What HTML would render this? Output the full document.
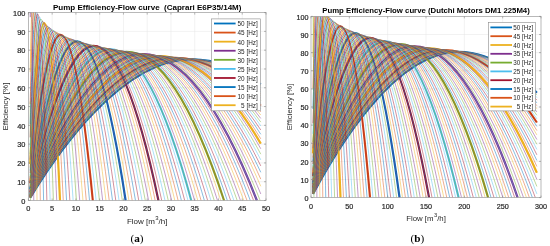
<!DOCTYPE html>
<html><head><meta charset="utf-8"><title>Pump Efficiency-Flow curves</title>
<style>html,body{margin:0;padding:0;background:#fff;width:550px;height:246px;overflow:hidden}svg{display:block}</style>
</head><body>
<svg width="550" height="246" viewBox="0 0 550 246">
<defs><clipPath id="cL"><rect x="28.4" y="12.6" width="237.6" height="187.9"/></clipPath><clipPath id="cR"><rect x="311" y="16.4" width="230" height="181.2"/></clipPath></defs>
<rect width="550" height="246" fill="#fff"/>
<path d="M52.16 12.6V200.5M75.92 12.6V200.5M99.68 12.6V200.5M123.44 12.6V200.5M147.2 12.6V200.5M170.96 12.6V200.5M194.72 12.6V200.5M218.48 12.6V200.5M242.24 12.6V200.5M28.4 181.71H266M28.4 162.92H266M28.4 144.13H266M28.4 125.34H266M28.4 106.55H266M28.4 87.76H266M28.4 68.97H266M28.4 50.18H266M28.4 31.39H266" stroke="#e4e4e4" stroke-width="0.5" fill="none"/>
<g clip-path="url(#cL)" fill="none" stroke-linecap="butt">
<path d="M30.21 197.55C51.4 163.1 72.59 134.74 93.78 112.77C126.47 78.88 159.17 59.26 191.86 59.26C214.83 59.26 237.8 67.62 260.77 84.36" stroke="#0072BD" stroke-width="2.2"/>
<path d="M30.21 197.19C49.21 162.53 68.22 133.98 87.22 111.85C116.63 77.6 146.04 57.78 175.45 57.78C203.89 57.78 232.33 73.79 260.77 105.83" stroke="#D95319" stroke-width="2.2"/>
<path d="M30.21 196.73C47.02 161.86 63.84 133.11 80.66 110.81C106.79 76.17 132.92 56.11 159.04 56.11C192.95 56.11 226.86 85.29 260.77 143.66" stroke="#EDB120" stroke-width="2.2"/>
<path d="M30.21 196.14C44.84 161.04 59.47 132.1 74.1 109.62C96.94 74.51 119.79 54.19 142.64 54.19C180.72 54.19 218.8 102.96 256.88 200.5" stroke="#7E2F8E" stroke-width="2.2"/>
<path d="M30.21 195.33C42.65 160.03 55.09 130.89 67.53 108.23C87.1 72.58 106.67 51.94 126.23 51.94C158.84 51.94 191.45 101.46 224.06 200.5" stroke="#77AC30" stroke-width="2.2"/>
<path d="M30.21 194.19C40.46 158.72 50.72 129.4 60.97 106.55C77.26 70.26 93.54 49.24 109.83 49.24C136.97 49.24 164.11 99.66 191.25 200.5" stroke="#4DBEEE" stroke-width="2.2"/>
<path d="M30.21 192.44C38.27 156.9 46.34 127.47 54.41 104.46C67.41 67.35 80.42 45.87 93.42 45.87C115.09 45.87 136.77 97.41 158.44 200.5" stroke="#A2142F" stroke-width="2.2"/>
<path d="M30.21 189.46C36.09 154.13 41.97 124.77 47.85 101.69C57.57 63.51 67.29 41.41 77.01 41.41C93.22 41.41 109.42 94.44 125.63 200.5" stroke="#0072BD" stroke-width="2.2"/>
<path d="M30.21 183.31C33.9 149.06 37.59 120.42 41.28 97.65C47.72 57.91 54.17 34.91 60.61 34.91C71.34 34.91 82.08 90.11 92.81 200.5" stroke="#D95319" stroke-width="2.2"/>
<path d="M30.21 163.98C31.71 135.22 33.22 110.62 34.72 90.36C37.88 47.81 41.04 23.17 44.2 23.17C49.47 23.17 54.73 82.28 60 200.5" stroke="#EDB120" stroke-width="2.2"/>
<g stroke-width="0.8">
<path d="M30.21 197.55C51.4 163.1 72.59 134.74 93.78 112.77C126.47 78.88 159.17 59.26 191.86 59.26" stroke="#7E2F8E" stroke-opacity="0.85"/>
<path d="M191.86 59.26C214.83 59.26 237.8 67.62 260.77 84.36" stroke="#7E2F8E" stroke-opacity="0.6"/>
<path d="M30.21 197.52C51.18 163.05 72.15 134.67 93.13 112.68C125.49 78.76 157.85 59.12 190.22 59.12" stroke="#77AC30" stroke-opacity="0.85"/>
<path d="M190.22 59.12C213.74 59.12 237.25 68.08 260.77 86" stroke="#77AC30" stroke-opacity="0.6"/>
<path d="M30.21 197.48C50.96 162.99 71.72 134.59 92.47 112.59C124.51 78.63 156.54 58.97 188.58 58.97" stroke="#4DBEEE" stroke-opacity="0.85"/>
<path d="M188.58 58.97C212.64 58.97 236.71 68.56 260.77 87.73" stroke="#4DBEEE" stroke-opacity="0.6"/>
<path d="M30.21 197.45C50.74 162.94 71.28 134.52 91.81 112.5C123.52 78.51 155.23 58.83 186.94 58.83" stroke="#A2142F" stroke-opacity="0.85"/>
<path d="M186.94 58.83C211.55 58.83 236.16 69.07 260.77 89.56" stroke="#A2142F" stroke-opacity="0.6"/>
<path d="M30.21 197.41C50.52 162.88 70.84 134.45 91.16 112.41C122.54 78.39 153.92 58.68 185.29 58.68" stroke="#0072BD" stroke-opacity="0.85"/>
<path d="M185.29 58.68C210.45 58.68 235.61 69.63 260.77 91.51" stroke="#0072BD" stroke-opacity="0.6"/>
<path d="M30.21 197.38C50.3 162.83 70.4 134.37 90.5 112.32C121.55 78.26 152.6 58.54 183.65 58.54" stroke="#D95319" stroke-opacity="0.85"/>
<path d="M183.65 58.54C209.36 58.54 235.07 70.21 260.77 93.57" stroke="#D95319" stroke-opacity="0.6"/>
<path d="M30.21 197.34C50.09 162.77 69.97 134.3 89.85 112.23C120.57 78.13 151.29 58.39 182.01 58.39" stroke="#EDB120" stroke-opacity="0.85"/>
<path d="M182.01 58.39C208.27 58.39 234.52 70.84 260.77 95.75" stroke="#EDB120" stroke-opacity="0.6"/>
<path d="M30.21 197.31C49.87 162.71 69.53 134.22 89.19 112.14C119.58 78 149.98 58.24 180.37 58.24" stroke="#7E2F8E" stroke-opacity="0.85"/>
<path d="M180.37 58.24C207.17 58.24 233.97 71.51 260.77 98.06" stroke="#7E2F8E" stroke-opacity="0.6"/>
<path d="M30.21 197.27C49.65 162.65 69.09 134.14 88.53 112.04C118.6 77.87 148.67 58.09 178.73 58.09" stroke="#77AC30" stroke-opacity="0.85"/>
<path d="M178.73 58.09C206.08 58.09 233.43 72.23 260.77 100.5" stroke="#77AC30" stroke-opacity="0.6"/>
<path d="M30.21 197.23C49.43 162.59 68.65 134.06 87.88 111.95C117.61 77.74 147.35 57.93 177.09 57.93" stroke="#4DBEEE" stroke-opacity="0.85"/>
<path d="M177.09 57.93C204.99 57.93 232.88 72.99 260.77 103.09" stroke="#4DBEEE" stroke-opacity="0.6"/>
<path d="M30.21 197.19C49.21 162.53 68.22 133.98 87.22 111.85C116.63 77.6 146.04 57.78 175.45 57.78" stroke="#A2142F" stroke-opacity="0.85"/>
<path d="M175.45 57.78C203.89 57.78 232.33 73.79 260.77 105.83" stroke="#A2142F" stroke-opacity="0.6"/>
<path d="M30.21 197.15C48.99 162.47 67.78 133.9 86.56 111.75C115.65 77.47 144.73 57.62 173.81 57.62" stroke="#0072BD" stroke-opacity="0.85"/>
<path d="M173.81 57.62C202.8 57.62 231.79 74.65 260.77 108.72" stroke="#0072BD" stroke-opacity="0.6"/>
<path d="M30.21 197.11C48.77 162.4 67.34 133.82 85.91 111.65C114.66 77.33 143.42 57.46 172.17 57.46" stroke="#D95319" stroke-opacity="0.85"/>
<path d="M172.17 57.46C201.7 57.46 231.24 75.57 260.77 111.79" stroke="#D95319" stroke-opacity="0.6"/>
<path d="M30.21 197.06C48.55 162.34 66.9 133.73 85.25 111.55C113.68 77.19 142.1 57.3 170.53 57.3" stroke="#EDB120" stroke-opacity="0.85"/>
<path d="M170.53 57.3C200.61 57.3 230.69 76.54 260.77 115.03" stroke="#EDB120" stroke-opacity="0.6"/>
<path d="M30.21 197.02C48.34 162.27 66.47 133.65 84.6 111.45C112.69 77.05 140.79 57.14 168.89 57.14" stroke="#7E2F8E" stroke-opacity="0.85"/>
<path d="M168.89 57.14C199.52 57.14 230.14 77.58 260.77 118.46" stroke="#7E2F8E" stroke-opacity="0.6"/>
<path d="M30.21 196.97C48.12 162.21 66.03 133.56 83.94 111.35C111.71 76.91 139.48 56.97 167.25 56.97" stroke="#77AC30" stroke-opacity="0.85"/>
<path d="M167.25 56.97C198.42 56.97 229.6 78.68 260.77 122.09" stroke="#77AC30" stroke-opacity="0.6"/>
<path d="M30.21 196.93C47.9 162.14 65.59 133.47 83.28 111.24C110.72 76.76 138.17 56.8 165.61 56.8" stroke="#4DBEEE" stroke-opacity="0.85"/>
<path d="M165.61 56.8C197.33 56.8 229.05 79.84 260.77 125.93" stroke="#4DBEEE" stroke-opacity="0.6"/>
<path d="M30.21 196.88C47.68 162.07 65.15 133.39 82.63 111.14C109.74 76.62 136.85 56.63 163.97 56.63" stroke="#A2142F" stroke-opacity="0.85"/>
<path d="M163.97 56.63C196.24 56.63 228.5 81.09 260.77 129.99" stroke="#A2142F" stroke-opacity="0.6"/>
<path d="M30.21 196.83C47.46 162 64.72 133.3 81.97 111.03C108.76 76.47 135.54 56.46 162.33 56.46" stroke="#0072BD" stroke-opacity="0.85"/>
<path d="M162.33 56.46C195.14 56.46 227.96 82.4 260.77 134.29" stroke="#0072BD" stroke-opacity="0.6"/>
<path d="M30.21 196.78C47.24 161.93 64.28 133.21 81.31 110.92C107.77 76.32 134.23 56.28 160.68 56.28" stroke="#D95319" stroke-opacity="0.85"/>
<path d="M160.68 56.28C194.05 56.28 227.41 83.8 260.77 138.84" stroke="#D95319" stroke-opacity="0.6"/>
<path d="M30.21 196.73C47.02 161.86 63.84 133.11 80.66 110.81C106.79 76.17 132.92 56.11 159.04 56.11" stroke="#EDB120" stroke-opacity="0.85"/>
<path d="M159.04 56.11C192.95 56.11 226.86 85.29 260.77 143.66" stroke="#EDB120" stroke-opacity="0.6"/>
<path d="M30.21 196.68C46.8 161.78 63.4 133.02 80 110.7C105.8 76.01 131.6 55.93 157.4 55.93" stroke="#7E2F8E" stroke-opacity="0.85"/>
<path d="M157.4 55.93C191.86 55.93 226.32 86.87 260.77 148.75" stroke="#7E2F8E" stroke-opacity="0.6"/>
<path d="M30.21 196.63C46.59 161.71 62.97 132.92 79.35 110.59C104.82 75.85 130.29 55.75 155.76 55.75" stroke="#77AC30" stroke-opacity="0.85"/>
<path d="M155.76 55.75C190.77 55.75 225.77 88.55 260.77 154.15" stroke="#77AC30" stroke-opacity="0.6"/>
<path d="M30.21 196.57C46.37 161.63 62.53 132.83 78.69 110.47C103.83 75.7 128.98 55.56 154.12 55.56" stroke="#4DBEEE" stroke-opacity="0.85"/>
<path d="M154.12 55.56C189.67 55.56 225.22 90.33 260.77 159.86" stroke="#4DBEEE" stroke-opacity="0.6"/>
<path d="M30.21 196.51C46.15 161.55 62.09 132.73 78.03 110.36C102.85 75.53 127.67 55.37 152.48 55.37" stroke="#A2142F" stroke-opacity="0.85"/>
<path d="M152.48 55.37C188.58 55.37 224.68 92.22 260.77 165.91" stroke="#A2142F" stroke-opacity="0.6"/>
<path d="M30.21 196.46C45.93 161.47 61.65 132.63 77.38 110.24C101.86 75.37 126.35 55.18 150.84 55.18" stroke="#0072BD" stroke-opacity="0.85"/>
<path d="M150.84 55.18C187.49 55.18 224.13 94.23 260.77 172.32" stroke="#0072BD" stroke-opacity="0.6"/>
<path d="M30.21 196.4C45.71 161.39 61.22 132.53 76.72 110.12C100.88 75.2 125.04 54.99 149.2 54.99" stroke="#D95319" stroke-opacity="0.85"/>
<path d="M149.2 54.99C186.39 54.99 223.58 96.37 260.77 179.12" stroke="#D95319" stroke-opacity="0.6"/>
<path d="M30.21 196.33C45.49 161.3 60.78 132.42 76.06 110C99.9 75.04 123.73 54.79 147.56 54.79" stroke="#EDB120" stroke-opacity="0.85"/>
<path d="M147.56 54.79C185.3 54.79 223.04 98.64 260.77 186.32" stroke="#EDB120" stroke-opacity="0.6"/>
<path d="M30.21 196.27C45.27 161.22 60.34 132.32 75.41 109.87C98.91 74.86 122.42 54.6 145.92 54.6" stroke="#7E2F8E" stroke-opacity="0.85"/>
<path d="M145.92 54.6C184.2 54.6 222.49 101.05 260.77 193.96" stroke="#7E2F8E" stroke-opacity="0.6"/>
<path d="M30.21 196.2C45.05 161.13 59.9 132.21 74.75 109.75C97.93 74.69 121.1 54.39 144.28 54.39" stroke="#77AC30" stroke-opacity="0.85"/>
<path d="M144.28 54.39C182.9 54.39 221.53 103.1 260.16 200.5" stroke="#77AC30" stroke-opacity="0.6"/>
<path d="M30.21 196.14C44.84 161.04 59.47 132.1 74.1 109.62C96.94 74.51 119.79 54.19 142.64 54.19" stroke="#4DBEEE" stroke-opacity="0.85"/>
<path d="M142.64 54.19C180.72 54.19 218.8 102.96 256.88 200.5" stroke="#4DBEEE" stroke-opacity="0.6"/>
<path d="M30.21 196.07C44.62 160.95 59.03 131.99 73.44 109.49C95.96 74.34 118.48 53.98 141 53.98" stroke="#A2142F" stroke-opacity="0.85"/>
<path d="M141 53.98C178.53 53.98 216.06 102.82 253.59 200.5" stroke="#A2142F" stroke-opacity="0.6"/>
<path d="M30.21 196C44.4 160.86 58.59 131.88 72.78 109.36C94.97 74.15 117.17 53.77 139.36 53.77" stroke="#0072BD" stroke-opacity="0.85"/>
<path d="M139.36 53.77C176.34 53.77 213.33 102.68 250.31 200.5" stroke="#0072BD" stroke-opacity="0.6"/>
<path d="M30.21 195.92C44.18 160.76 58.15 131.76 72.13 109.23C93.99 73.97 115.85 53.55 137.72 53.55" stroke="#D95319" stroke-opacity="0.85"/>
<path d="M137.72 53.55C174.15 53.55 210.59 102.54 247.03 200.5" stroke="#D95319" stroke-opacity="0.6"/>
<path d="M30.21 195.85C43.96 160.67 57.72 131.65 71.47 109.09C93.01 73.78 114.54 53.34 136.08 53.34" stroke="#EDB120" stroke-opacity="0.85"/>
<path d="M136.08 53.34C171.97 53.34 207.86 102.39 243.75 200.5" stroke="#EDB120" stroke-opacity="0.6"/>
<path d="M30.21 195.77C43.74 160.57 57.28 131.53 70.81 108.95C92.02 73.59 113.23 53.11 134.43 53.11" stroke="#7E2F8E" stroke-opacity="0.85"/>
<path d="M134.43 53.11C169.78 53.11 205.12 102.24 240.47 200.5" stroke="#7E2F8E" stroke-opacity="0.6"/>
<path d="M30.21 195.69C43.52 160.47 56.84 131.41 70.16 108.81C91.04 73.39 111.92 52.89 132.79 52.89" stroke="#77AC30" stroke-opacity="0.85"/>
<path d="M132.79 52.89C167.59 52.89 202.39 102.09 237.19 200.5" stroke="#77AC30" stroke-opacity="0.6"/>
<path d="M30.21 195.6C43.3 160.36 56.4 131.28 69.5 108.67C90.05 73.2 110.6 52.66 131.15 52.66" stroke="#4DBEEE" stroke-opacity="0.85"/>
<path d="M131.15 52.66C165.4 52.66 199.66 101.94 233.91 200.5" stroke="#4DBEEE" stroke-opacity="0.6"/>
<path d="M30.21 195.52C43.09 160.25 55.97 131.16 68.85 108.53C89.07 72.99 109.29 52.42 129.51 52.42" stroke="#A2142F" stroke-opacity="0.85"/>
<path d="M129.51 52.42C163.22 52.42 196.92 101.78 230.63 200.5" stroke="#A2142F" stroke-opacity="0.6"/>
<path d="M30.21 195.43C42.87 160.15 55.53 131.03 68.19 108.38C88.08 72.79 107.98 52.19 127.87 52.19" stroke="#0072BD" stroke-opacity="0.85"/>
<path d="M127.87 52.19C161.03 52.19 194.19 101.62 227.34 200.5" stroke="#0072BD" stroke-opacity="0.6"/>
<path d="M30.21 195.33C42.65 160.03 55.09 130.89 67.53 108.23C87.1 72.58 106.67 51.94 126.23 51.94" stroke="#D95319" stroke-opacity="0.85"/>
<path d="M126.23 51.94C158.84 51.94 191.45 101.46 224.06 200.5" stroke="#D95319" stroke-opacity="0.6"/>
<path d="M30.21 195.24C42.43 159.92 54.65 130.76 66.88 108.07C86.11 72.37 105.35 51.7 124.59 51.7" stroke="#EDB120" stroke-opacity="0.85"/>
<path d="M124.59 51.7C156.65 51.7 188.72 101.3 220.78 200.5" stroke="#EDB120" stroke-opacity="0.6"/>
<path d="M30.21 195.14C42.21 159.8 54.22 130.62 66.22 107.92C85.13 72.15 104.04 51.45 122.95 51.45" stroke="#7E2F8E" stroke-opacity="0.85"/>
<path d="M122.95 51.45C154.47 51.45 185.98 101.13 217.5 200.5" stroke="#7E2F8E" stroke-opacity="0.6"/>
<path d="M30.21 195.03C41.99 159.68 53.78 130.48 65.56 107.76C84.15 71.93 102.73 51.19 121.31 51.19" stroke="#77AC30" stroke-opacity="0.85"/>
<path d="M121.31 51.19C152.28 51.19 183.25 100.96 214.22 200.5" stroke="#77AC30" stroke-opacity="0.6"/>
<path d="M30.21 194.93C41.77 159.55 53.34 130.34 64.91 107.6C83.16 71.71 101.42 50.93 119.67 50.93" stroke="#4DBEEE" stroke-opacity="0.85"/>
<path d="M119.67 50.93C150.09 50.93 180.52 100.79 210.94 200.5" stroke="#4DBEEE" stroke-opacity="0.6"/>
<path d="M30.21 194.82C41.55 159.42 52.9 130.19 64.25 107.43C82.18 71.48 100.1 50.66 118.03 50.66" stroke="#A2142F" stroke-opacity="0.85"/>
<path d="M118.03 50.66C147.9 50.66 177.78 100.61 207.66 200.5" stroke="#A2142F" stroke-opacity="0.6"/>
<path d="M30.21 194.7C41.34 159.29 52.47 130.04 63.6 107.26C81.19 71.24 98.79 50.39 116.39 50.39" stroke="#0072BD" stroke-opacity="0.85"/>
<path d="M116.39 50.39C145.72 50.39 175.05 100.43 204.38 200.5" stroke="#0072BD" stroke-opacity="0.6"/>
<path d="M30.21 194.58C41.12 159.15 52.03 129.89 62.94 107.09C80.21 71 97.48 50.11 114.75 50.11" stroke="#D95319" stroke-opacity="0.85"/>
<path d="M114.75 50.11C143.53 50.11 172.31 100.24 201.09 200.5" stroke="#D95319" stroke-opacity="0.6"/>
<path d="M30.21 194.46C40.9 159.01 51.59 129.73 62.28 106.91C79.22 70.76 96.17 49.83 113.11 49.83" stroke="#EDB120" stroke-opacity="0.85"/>
<path d="M113.11 49.83C141.34 49.83 169.58 100.05 197.81 200.5" stroke="#EDB120" stroke-opacity="0.6"/>
<path d="M30.21 194.33C40.68 158.87 51.15 129.57 61.63 106.73C78.24 70.51 94.85 49.54 111.47 49.54" stroke="#7E2F8E" stroke-opacity="0.85"/>
<path d="M111.47 49.54C139.15 49.54 166.84 99.86 194.53 200.5" stroke="#7E2F8E" stroke-opacity="0.6"/>
<path d="M30.21 194.19C40.46 158.72 50.72 129.4 60.97 106.55C77.26 70.26 93.54 49.24 109.83 49.24" stroke="#77AC30" stroke-opacity="0.85"/>
<path d="M109.83 49.24C136.97 49.24 164.11 99.66 191.25 200.5" stroke="#77AC30" stroke-opacity="0.6"/>
<path d="M30.21 194.05C40.24 158.57 50.28 129.23 60.31 106.36C76.27 70 92.23 48.94 108.18 48.94" stroke="#4DBEEE" stroke-opacity="0.85"/>
<path d="M108.18 48.94C134.78 48.94 161.37 99.46 187.97 200.5" stroke="#4DBEEE" stroke-opacity="0.6"/>
<path d="M30.21 193.9C40.02 158.41 49.84 129.06 59.66 106.17C75.29 69.73 90.92 48.63 106.54 48.63" stroke="#A2142F" stroke-opacity="0.85"/>
<path d="M106.54 48.63C132.59 48.63 158.64 99.26 184.69 200.5" stroke="#A2142F" stroke-opacity="0.6"/>
<path d="M30.21 193.75C39.8 158.24 49.4 128.88 59 105.97C74.3 69.46 89.6 48.32 104.9 48.32" stroke="#0072BD" stroke-opacity="0.85"/>
<path d="M104.9 48.32C130.4 48.32 155.91 99.04 181.41 200.5" stroke="#0072BD" stroke-opacity="0.6"/>
<path d="M30.21 193.59C39.59 158.07 48.97 128.7 58.35 105.77C73.32 69.18 88.29 47.99 103.26 47.99" stroke="#D95319" stroke-opacity="0.85"/>
<path d="M103.26 47.99C128.22 47.99 153.17 98.83 178.13 200.5" stroke="#D95319" stroke-opacity="0.6"/>
<path d="M30.21 193.42C39.37 157.89 48.53 128.51 57.69 105.57C72.33 68.89 86.98 47.66 101.62 47.66" stroke="#EDB120" stroke-opacity="0.85"/>
<path d="M101.62 47.66C126.03 47.66 150.44 98.61 174.84 200.5" stroke="#EDB120" stroke-opacity="0.6"/>
<path d="M30.21 193.24C39.15 157.71 48.09 128.31 57.03 105.36C71.35 68.6 85.67 47.32 99.98 47.32" stroke="#7E2F8E" stroke-opacity="0.85"/>
<path d="M99.98 47.32C123.84 47.32 147.7 98.38 171.56 200.5" stroke="#7E2F8E" stroke-opacity="0.6"/>
<path d="M30.21 193.06C38.93 157.52 47.65 128.11 56.38 105.14C70.36 68.3 84.35 46.97 98.34 46.97" stroke="#77AC30" stroke-opacity="0.85"/>
<path d="M98.34 46.97C121.65 46.97 144.97 98.15 168.28 200.5" stroke="#77AC30" stroke-opacity="0.6"/>
<path d="M30.21 192.86C38.71 157.32 47.22 127.91 55.72 104.92C69.38 67.99 83.04 46.62 96.7 46.62" stroke="#4DBEEE" stroke-opacity="0.85"/>
<path d="M96.7 46.62C119.47 46.62 142.23 97.91 165 200.5" stroke="#4DBEEE" stroke-opacity="0.6"/>
<path d="M30.21 192.66C38.49 157.12 46.78 127.69 55.06 104.69C68.4 67.68 81.73 46.25 95.06 46.25" stroke="#A2142F" stroke-opacity="0.85"/>
<path d="M95.06 46.25C117.28 46.25 139.5 97.67 161.72 200.5" stroke="#A2142F" stroke-opacity="0.6"/>
<path d="M30.21 192.44C38.27 156.9 46.34 127.47 54.41 104.46C67.41 67.35 80.42 45.87 93.42 45.87" stroke="#0072BD" stroke-opacity="0.85"/>
<path d="M93.42 45.87C115.09 45.87 136.77 97.41 158.44 200.5" stroke="#0072BD" stroke-opacity="0.6"/>
<path d="M30.21 192.22C38.05 156.68 45.9 127.25 53.75 104.22C66.43 67.02 79.1 45.48 91.78 45.48" stroke="#D95319" stroke-opacity="0.85"/>
<path d="M91.78 45.48C112.9 45.48 134.03 97.16 155.16 200.5" stroke="#D95319" stroke-opacity="0.6"/>
<path d="M30.21 191.98C37.84 156.45 45.47 127.01 53.1 103.97C65.44 66.68 77.79 45.09 90.14 45.09" stroke="#EDB120" stroke-opacity="0.85"/>
<path d="M90.14 45.09C110.72 45.09 131.3 96.89 151.88 200.5" stroke="#EDB120" stroke-opacity="0.6"/>
<path d="M30.21 191.72C37.62 156.2 45.03 126.77 52.44 103.71C64.46 66.32 76.48 44.68 88.5 44.68" stroke="#7E2F8E" stroke-opacity="0.85"/>
<path d="M88.5 44.68C108.53 44.68 128.56 96.62 148.59 200.5" stroke="#7E2F8E" stroke-opacity="0.6"/>
<path d="M30.21 191.46C37.4 155.95 44.59 126.51 51.78 103.45C63.47 65.96 75.17 44.25 86.86 44.25" stroke="#77AC30" stroke-opacity="0.85"/>
<path d="M86.86 44.25C106.34 44.25 125.83 96.34 145.31 200.5" stroke="#77AC30" stroke-opacity="0.6"/>
<path d="M30.21 191.17C37.18 155.68 44.15 126.25 51.13 103.18C62.49 65.58 73.85 43.82 85.22 43.82" stroke="#4DBEEE" stroke-opacity="0.85"/>
<path d="M85.22 43.82C104.15 43.82 123.09 96.05 142.03 200.5" stroke="#4DBEEE" stroke-opacity="0.6"/>
<path d="M30.21 190.87C36.96 155.4 43.72 125.98 50.47 102.9C61.51 65.2 72.54 43.37 83.58 43.37" stroke="#A2142F" stroke-opacity="0.85"/>
<path d="M83.58 43.37C101.97 43.37 120.36 95.75 138.75 200.5" stroke="#A2142F" stroke-opacity="0.6"/>
<path d="M30.21 190.55C36.74 155.11 43.28 125.7 49.81 102.61C60.52 64.8 71.23 42.91 81.93 42.91" stroke="#0072BD" stroke-opacity="0.85"/>
<path d="M81.93 42.91C99.78 42.91 117.62 95.44 135.47 200.5" stroke="#0072BD" stroke-opacity="0.6"/>
<path d="M30.21 190.21C36.52 154.8 42.84 125.4 49.16 102.31C59.54 64.38 69.92 42.43 80.29 42.43" stroke="#D95319" stroke-opacity="0.85"/>
<path d="M80.29 42.43C97.59 42.43 114.89 95.12 132.19 200.5" stroke="#D95319" stroke-opacity="0.6"/>
<path d="M30.21 189.85C36.3 154.47 42.4 125.09 48.5 102.01C58.55 63.96 68.6 41.93 78.65 41.93" stroke="#EDB120" stroke-opacity="0.85"/>
<path d="M78.65 41.93C95.4 41.93 112.16 94.79 128.91 200.5" stroke="#EDB120" stroke-opacity="0.6"/>
<path d="M30.21 189.46C36.09 154.13 41.97 124.77 47.85 101.69C57.57 63.51 67.29 41.41 77.01 41.41" stroke="#7E2F8E" stroke-opacity="0.85"/>
<path d="M77.01 41.41C93.22 41.41 109.42 94.44 125.63 200.5" stroke="#7E2F8E" stroke-opacity="0.6"/>
<path d="M30.21 189.04C35.87 153.76 41.53 124.43 47.19 101.36C56.58 63.05 65.98 40.88 75.37 40.88" stroke="#77AC30" stroke-opacity="0.85"/>
<path d="M75.37 40.88C91.03 40.88 106.69 94.09 122.34 200.5" stroke="#77AC30" stroke-opacity="0.6"/>
<path d="M30.21 188.59C35.65 153.37 41.09 124.08 46.53 101.01C55.6 62.58 64.67 40.33 73.73 40.33" stroke="#4DBEEE" stroke-opacity="0.85"/>
<path d="M73.73 40.33C88.84 40.33 103.95 93.72 119.06 200.5" stroke="#4DBEEE" stroke-opacity="0.6"/>
<path d="M30.21 188.11C35.43 152.96 40.65 123.71 45.88 100.65C54.61 62.08 63.35 39.75 72.09 39.75" stroke="#A2142F" stroke-opacity="0.85"/>
<path d="M72.09 39.75C86.65 39.75 101.22 93.33 115.78 200.5" stroke="#A2142F" stroke-opacity="0.6"/>
<path d="M30.21 187.59C35.21 152.52 40.22 123.32 45.22 100.28C53.63 61.56 62.04 39.15 70.45 39.15" stroke="#0072BD" stroke-opacity="0.85"/>
<path d="M70.45 39.15C84.47 39.15 98.48 92.93 112.5 200.5" stroke="#0072BD" stroke-opacity="0.6"/>
<path d="M30.21 187.02C34.99 152.04 39.78 122.91 44.56 99.89C52.65 61.02 60.73 38.52 68.81 38.52" stroke="#D95319" stroke-opacity="0.85"/>
<path d="M68.81 38.52C82.28 38.52 95.75 92.51 109.22 200.5" stroke="#D95319" stroke-opacity="0.6"/>
<path d="M30.21 186.41C34.77 151.54 39.34 122.47 43.91 99.48C51.66 60.46 59.42 37.87 67.17 37.87" stroke="#EDB120" stroke-opacity="0.85"/>
<path d="M67.17 37.87C80.09 37.87 93.02 92.08 105.94 200.5" stroke="#EDB120" stroke-opacity="0.6"/>
<path d="M30.21 185.74C34.55 150.99 38.9 122.01 43.25 99.06C50.68 59.87 58.1 37.18 65.53 37.18" stroke="#7E2F8E" stroke-opacity="0.85"/>
<path d="M65.53 37.18C77.9 37.18 90.28 91.62 102.66 200.5" stroke="#7E2F8E" stroke-opacity="0.6"/>
<path d="M30.21 185C34.34 150.4 38.47 121.51 42.6 98.61C49.69 59.25 56.79 36.46 63.89 36.46" stroke="#77AC30" stroke-opacity="0.85"/>
<path d="M63.89 36.46C75.72 36.46 87.55 91.14 99.38 200.5" stroke="#77AC30" stroke-opacity="0.6"/>
<path d="M30.21 184.2C34.12 149.76 38.03 120.99 41.94 98.14C48.71 58.6 55.48 35.71 62.25 35.71" stroke="#4DBEEE" stroke-opacity="0.85"/>
<path d="M62.25 35.71C73.53 35.71 84.81 90.64 96.09 200.5" stroke="#4DBEEE" stroke-opacity="0.6"/>
<path d="M30.21 183.31C33.9 149.06 37.59 120.42 41.28 97.65C47.72 57.91 54.17 34.91 60.61 34.91" stroke="#A2142F" stroke-opacity="0.85"/>
<path d="M60.61 34.91C71.34 34.91 82.08 90.11 92.81 200.5" stroke="#A2142F" stroke-opacity="0.6"/>
<path d="M30.21 182.32C33.68 148.3 37.15 119.82 40.63 97.13C46.74 57.19 52.85 34.07 58.97 34.07" stroke="#0072BD" stroke-opacity="0.85"/>
<path d="M58.97 34.07C69.15 34.07 79.34 89.55 89.53 200.5" stroke="#0072BD" stroke-opacity="0.6"/>
<path d="M30.21 181.21C33.46 147.46 36.72 119.16 39.97 96.57C45.76 56.42 51.54 33.18 57.33 33.18" stroke="#D95319" stroke-opacity="0.85"/>
<path d="M57.33 33.18C66.97 33.18 76.61 88.95 86.25 200.5" stroke="#D95319" stroke-opacity="0.6"/>
<path d="M30.21 179.97C33.24 146.52 36.28 118.45 39.31 95.98C44.77 55.61 50.23 32.23 55.68 32.23" stroke="#EDB120" stroke-opacity="0.85"/>
<path d="M55.68 32.23C64.78 32.23 73.87 88.32 82.97 200.5" stroke="#EDB120" stroke-opacity="0.6"/>
<path d="M30.21 178.57C33.02 145.48 35.84 117.67 38.66 95.36C43.79 54.74 48.92 31.22 54.04 31.22" stroke="#7E2F8E" stroke-opacity="0.85"/>
<path d="M54.04 31.22C62.59 31.22 71.14 87.65 79.69 200.5" stroke="#7E2F8E" stroke-opacity="0.6"/>
<path d="M30.21 176.98C32.8 144.32 35.4 116.81 38 94.68C42.8 53.8 47.6 30.14 52.4 30.14" stroke="#77AC30" stroke-opacity="0.85"/>
<path d="M52.4 30.14C60.4 30.14 68.41 86.93 76.41 200.5" stroke="#77AC30" stroke-opacity="0.6"/>
<path d="M30.21 175.14C32.59 142.99 34.97 115.86 37.35 93.96C41.82 52.8 46.29 28.97 50.76 28.97" stroke="#4DBEEE" stroke-opacity="0.85"/>
<path d="M50.76 28.97C58.22 28.97 65.67 86.15 73.13 200.5" stroke="#4DBEEE" stroke-opacity="0.6"/>
<path d="M30.21 173.02C32.37 141.48 34.53 114.79 36.69 93.18C40.83 51.72 44.98 27.71 49.12 27.71" stroke="#A2142F" stroke-opacity="0.85"/>
<path d="M49.12 27.71C56.03 27.71 62.94 85.31 69.84 200.5" stroke="#A2142F" stroke-opacity="0.6"/>
<path d="M30.21 170.52C32.15 139.72 34.09 113.59 36.03 92.32C39.85 50.53 43.67 26.34 47.48 26.34" stroke="#0072BD" stroke-opacity="0.85"/>
<path d="M47.48 26.34C53.84 26.34 60.2 84.39 66.56 200.5" stroke="#0072BD" stroke-opacity="0.6"/>
<path d="M30.21 167.56C31.93 137.67 33.65 112.22 35.38 91.39C38.86 49.24 42.35 24.84 45.84 24.84" stroke="#D95319" stroke-opacity="0.85"/>
<path d="M45.84 24.84C51.65 24.84 57.47 83.39 63.28 200.5" stroke="#D95319" stroke-opacity="0.6"/>
<path d="M30.21 163.98C31.71 135.22 33.22 110.62 34.72 90.36C37.88 47.81 41.04 23.17 44.2 23.17" stroke="#EDB120" stroke-opacity="0.85"/>
<path d="M44.2 23.17C49.47 23.17 54.73 82.28 60 200.5" stroke="#EDB120" stroke-opacity="0.6"/>
<path d="M30.21 159.59C31.49 132.24 32.78 108.73 34.06 89.2C36.9 46.21 39.73 21.32 42.56 21.32" stroke="#7E2F8E" stroke-opacity="0.85"/>
<path d="M42.56 21.32C47.28 21.32 52 81.05 56.72 200.5" stroke="#7E2F8E" stroke-opacity="0.6"/>
<path d="M30.21 154.06C31.27 128.54 32.34 106.44 33.41 87.9C35.91 44.4 38.42 19.22 40.92 19.22" stroke="#77AC30" stroke-opacity="0.85"/>
<path d="M40.92 19.22C45.09 19.22 49.27 79.65 53.44 200.5" stroke="#77AC30" stroke-opacity="0.6"/>
<path d="M30.21 146.92C31.05 123.8 31.9 103.6 32.75 86.41C34.93 42.33 37.1 16.81 39.28 16.81" stroke="#4DBEEE" stroke-opacity="0.85"/>
<path d="M39.28 16.81C42.9 16.81 46.53 78.04 50.16 200.5" stroke="#4DBEEE" stroke-opacity="0.6"/>
<path d="M30.21 137.37C30.84 117.5 31.47 99.91 32.1 84.66C33.94 39.9 35.79 14 37.64 14" stroke="#A2142F" stroke-opacity="0.85"/>
<path d="M37.64 14C40.72 14 43.8 76.16 46.88 200.5" stroke="#A2142F" stroke-opacity="0.6"/>
<path d="M30.21 123.99C30.62 108.7 31.03 94.88 31.44 82.55C32.96 36.99 34.48 10.61 36 10.61" stroke="#0072BD" stroke-opacity="0.85"/>
<path d="M36 10.61C38.53 10.61 41.06 73.9 43.59 200.5" stroke="#0072BD" stroke-opacity="0.6"/>
<path d="M30.21 104.11C30.4 95.5 30.59 87.44 30.78 79.92C31.97 33.34 33.17 6.37 34.36 6.37" stroke="#D95319" stroke-opacity="0.85"/>
<path d="M34.36 6.37C36.34 6.37 38.33 71.08 40.31 200.5" stroke="#D95319" stroke-opacity="0.6"/>
<path d="M30.21 72.1C31.04 26.93 31.88 0.78 32.72 0.78" stroke="#EDB120" stroke-opacity="0.85"/>
<path d="M32.72 0.78C34.15 0.78 35.59 67.35 37.03 200.5" stroke="#EDB120" stroke-opacity="0.6"/>
<path d="M30.21 17.19C30.5 1.62 30.79 -7.39 31.08 -7.39" stroke="#7E2F8E" stroke-opacity="0.85"/>
<path d="M31.08 -7.39C31.97 -7.39 32.86 61.91 33.75 200.5" stroke="#7E2F8E" stroke-opacity="0.6"/>
<path d="" stroke="#77AC30" stroke-opacity="0.85"/>
<path d="M30.21 101.48C30.29 129.66 30.38 162.67 30.47 200.5" stroke="#77AC30" stroke-opacity="0.6"/>
</g></g>
<rect x="28.4" y="12.6" width="237.6" height="187.9" fill="none" stroke="#8a8a8a" stroke-width="0.6"/>
<path d="M28.4 200.5v-2M28.4 12.6v2M52.16 200.5v-2M52.16 12.6v2M75.92 200.5v-2M75.92 12.6v2M99.68 200.5v-2M99.68 12.6v2M123.44 200.5v-2M123.44 12.6v2M147.2 200.5v-2M147.2 12.6v2M170.96 200.5v-2M170.96 12.6v2M194.72 200.5v-2M194.72 12.6v2M218.48 200.5v-2M218.48 12.6v2M242.24 200.5v-2M242.24 12.6v2M266 200.5v-2M266 12.6v2M28.4 200.5h2M266 200.5h-2M28.4 181.71h2M266 181.71h-2M28.4 162.92h2M266 162.92h-2M28.4 144.13h2M266 144.13h-2M28.4 125.34h2M266 125.34h-2M28.4 106.55h2M266 106.55h-2M28.4 87.76h2M266 87.76h-2M28.4 68.97h2M266 68.97h-2M28.4 50.18h2M266 50.18h-2M28.4 31.39h2M266 31.39h-2M28.4 12.6h2M266 12.6h-2" stroke="#8a8a8a" stroke-width="0.6" fill="none"/>
<g font-family="Liberation Sans, Arial, sans-serif" font-size="7.4" fill="#262626" stroke="#262626" stroke-width="0.2">
<text x="28.4" y="211.1" text-anchor="middle">0</text>
<text x="52.16" y="211.1" text-anchor="middle">5</text>
<text x="75.92" y="211.1" text-anchor="middle">10</text>
<text x="99.68" y="211.1" text-anchor="middle">15</text>
<text x="123.44" y="211.1" text-anchor="middle">20</text>
<text x="147.2" y="211.1" text-anchor="middle">25</text>
<text x="170.96" y="211.1" text-anchor="middle">30</text>
<text x="194.72" y="211.1" text-anchor="middle">35</text>
<text x="218.48" y="211.1" text-anchor="middle">40</text>
<text x="242.24" y="211.1" text-anchor="middle">45</text>
<text x="266" y="211.1" text-anchor="middle">50</text>
<text x="25.4" y="203.8" text-anchor="end">0</text>
<text x="25.4" y="185.01" text-anchor="end">10</text>
<text x="25.4" y="166.22" text-anchor="end">20</text>
<text x="25.4" y="147.43" text-anchor="end">30</text>
<text x="25.4" y="128.64" text-anchor="end">40</text>
<text x="25.4" y="109.85" text-anchor="end">50</text>
<text x="25.4" y="91.06" text-anchor="end">60</text>
<text x="25.4" y="72.27" text-anchor="end">70</text>
<text x="25.4" y="53.48" text-anchor="end">80</text>
<text x="25.4" y="34.69" text-anchor="end">90</text>
<text x="25.4" y="15.9" text-anchor="end">100</text>
</g>
<text x="147.2" y="224.4" text-anchor="middle" font-family="Liberation Sans, Arial, sans-serif" font-size="8.0" fill="#262626">Flow [m<tspan font-size="6" dx="0.4" dy="-4">3</tspan><tspan dy="4">/h]</tspan></text>
<text transform="translate(8.4 106.55) rotate(-90)" text-anchor="middle" font-family="Liberation Sans, Arial, sans-serif" font-size="8.0" fill="#262626">Efficiency [%]</text>
<text x="147.2" y="9.5" text-anchor="middle" font-family="Liberation Sans, Arial, sans-serif" font-weight="bold" font-size="8.0" fill="#000" xml:space="preserve">Pump Efficiency-Flow curve  (Caprari E6P35/14M)</text>
<rect x="211.5" y="18.9" width="49.1" height="91.9" fill="#fff" stroke="#8a8a8a" stroke-width="0.6"/>
<path d="M214 23.5H235.6" stroke="#0072BD" stroke-width="1.8"/>
<text x="257.8" y="26.4" text-anchor="end" font-family="Liberation Sans, Arial, sans-serif" font-size="6.4" fill="#262626">50 [Hz]</text>
<path d="M214 32.58H235.6" stroke="#D95319" stroke-width="1.8"/>
<text x="257.8" y="35.48" text-anchor="end" font-family="Liberation Sans, Arial, sans-serif" font-size="6.4" fill="#262626">45 [Hz]</text>
<path d="M214 41.66H235.6" stroke="#EDB120" stroke-width="1.8"/>
<text x="257.8" y="44.56" text-anchor="end" font-family="Liberation Sans, Arial, sans-serif" font-size="6.4" fill="#262626">40 [Hz]</text>
<path d="M214 50.74H235.6" stroke="#7E2F8E" stroke-width="1.8"/>
<text x="257.8" y="53.64" text-anchor="end" font-family="Liberation Sans, Arial, sans-serif" font-size="6.4" fill="#262626">35 [Hz]</text>
<path d="M214 59.82H235.6" stroke="#77AC30" stroke-width="1.8"/>
<text x="257.8" y="62.72" text-anchor="end" font-family="Liberation Sans, Arial, sans-serif" font-size="6.4" fill="#262626">30 [Hz]</text>
<path d="M214 68.9H235.6" stroke="#4DBEEE" stroke-width="1.8"/>
<text x="257.8" y="71.8" text-anchor="end" font-family="Liberation Sans, Arial, sans-serif" font-size="6.4" fill="#262626">25 [Hz]</text>
<path d="M214 77.98H235.6" stroke="#A2142F" stroke-width="1.8"/>
<text x="257.8" y="80.88" text-anchor="end" font-family="Liberation Sans, Arial, sans-serif" font-size="6.4" fill="#262626">20 [Hz]</text>
<path d="M214 87.06H235.6" stroke="#0072BD" stroke-width="1.8"/>
<text x="257.8" y="89.96" text-anchor="end" font-family="Liberation Sans, Arial, sans-serif" font-size="6.4" fill="#262626">15 [Hz]</text>
<path d="M214 96.14H235.6" stroke="#D95319" stroke-width="1.8"/>
<text x="257.8" y="99.04" text-anchor="end" font-family="Liberation Sans, Arial, sans-serif" font-size="6.4" fill="#262626">10 [Hz]</text>
<path d="M214 105.22H235.6" stroke="#EDB120" stroke-width="1.8"/>
<text x="257.8" y="108.12" text-anchor="end" font-family="Liberation Sans, Arial, sans-serif" font-size="6.4" fill="#262626">5 [Hz]</text>
<path d="M349.33 16.4V197.6M387.67 16.4V197.6M426 16.4V197.6M464.33 16.4V197.6M502.67 16.4V197.6M311 179.48H541M311 161.36H541M311 143.24H541M311 125.12H541M311 107H541M311 88.88H541M311 70.76H541M311 52.64H541M311 34.52H541" stroke="#e4e4e4" stroke-width="0.5" fill="none"/>
<g clip-path="url(#cR)" fill="none" stroke-linecap="butt">
<path d="M312.99 193.88C332.01 158.61 351.02 129.54 370.03 107C399.55 72 429.07 51.73 458.58 51.73C484.68 51.73 510.77 65.41 536.86 92.77" stroke="#0072BD" stroke-width="2.2"/>
<path d="M312.99 193.43C330.04 157.97 347.08 128.73 364.13 106.04C390.69 70.67 417.26 50.19 443.82 50.19C474.84 50.19 505.85 74.3 536.86 122.51" stroke="#D95319" stroke-width="2.2"/>
<path d="M312.99 192.85C328.07 157.21 343.15 127.81 358.23 104.95C381.84 69.16 405.45 48.44 429.07 48.44C465 48.44 500.93 89.89 536.86 172.77" stroke="#EDB120" stroke-width="2.2"/>
<path d="M312.99 192.11C326.1 156.29 339.21 126.72 352.32 103.71C372.99 67.44 393.65 46.44 414.31 46.44C448.74 46.44 483.18 96.82 517.62 197.6" stroke="#7E2F8E" stroke-width="2.2"/>
<path d="M312.99 191.1C324.14 155.14 335.28 125.42 346.42 102.25C364.13 65.41 381.84 44.09 399.55 44.09C429.07 44.09 458.58 95.26 488.1 197.6" stroke="#77AC30" stroke-width="2.2"/>
<path d="M312.99 189.67C322.17 153.64 331.34 123.81 340.52 100.5C355.27 62.98 370.03 41.26 384.79 41.26C409.39 41.26 433.99 93.38 458.58 197.6" stroke="#4DBEEE" stroke-width="2.2"/>
<path d="M312.99 187.5C320.2 151.55 327.41 121.72 334.61 98.3C346.42 59.94 358.23 37.74 370.03 37.74C389.71 37.74 409.39 91.02 429.07 197.6" stroke="#A2142F" stroke-width="2.2"/>
<path d="M312.99 183.81C318.23 148.32 323.47 118.76 328.71 95.41C337.56 55.93 346.42 33.07 355.27 33.07C370.03 33.07 384.79 87.91 399.55 197.6" stroke="#0072BD" stroke-width="2.2"/>
<path d="M312.99 176.29C316.26 142.41 319.54 113.96 322.81 91.18C328.71 50.06 334.61 26.26 340.52 26.26C350.36 26.26 360.19 83.38 370.03 197.6" stroke="#D95319" stroke-width="2.2"/>
<path d="M312.99 153.35C314.3 126.31 315.6 103 316.9 83.54C319.86 39.48 322.81 13.97 325.76 13.97C330.68 13.97 335.6 75.18 340.52 197.6" stroke="#EDB120" stroke-width="2.2"/>
<g stroke-width="0.8">
<path d="M312.99 193.88C332.01 158.61 351.02 129.54 370.03 107C399.55 72 429.07 51.73 458.58 51.73" stroke="#7E2F8E" stroke-opacity="0.85"/>
<path d="M458.58 51.73C484.68 51.73 510.77 65.41 536.86 92.77" stroke="#7E2F8E" stroke-opacity="0.6"/>
<path d="M312.99 193.84C331.81 158.55 350.63 129.47 369.44 106.91C398.66 71.87 427.89 51.59 457.11 51.59" stroke="#77AC30" stroke-opacity="0.85"/>
<path d="M457.11 51.59C483.69 51.59 510.28 66.09 536.86 95.09" stroke="#77AC30" stroke-opacity="0.6"/>
<path d="M312.99 193.8C331.61 158.49 350.23 129.39 368.85 106.81C397.78 71.74 426.71 51.44 455.63 51.44" stroke="#4DBEEE" stroke-opacity="0.85"/>
<path d="M455.63 51.44C482.71 51.44 509.78 66.81 536.86 97.54" stroke="#4DBEEE" stroke-opacity="0.6"/>
<path d="M312.99 193.75C331.42 158.43 349.84 129.31 368.26 106.72C396.89 71.61 425.52 51.29 454.16 51.29" stroke="#A2142F" stroke-opacity="0.85"/>
<path d="M454.16 51.29C481.72 51.29 509.29 67.57 536.86 100.12" stroke="#A2142F" stroke-opacity="0.6"/>
<path d="M312.99 193.71C331.22 158.36 349.45 129.23 367.67 106.63C396.01 71.48 424.34 51.14 452.68 51.14" stroke="#0072BD" stroke-opacity="0.85"/>
<path d="M452.68 51.14C480.74 51.14 508.8 68.37 536.86 102.84" stroke="#0072BD" stroke-opacity="0.6"/>
<path d="M312.99 193.66C331.02 158.3 349.05 129.15 367.08 106.53C395.12 71.35 423.16 50.98 451.2 50.98" stroke="#D95319" stroke-opacity="0.85"/>
<path d="M451.2 50.98C479.76 50.98 508.31 69.23 536.86 105.71" stroke="#D95319" stroke-opacity="0.6"/>
<path d="M312.99 193.62C330.83 158.24 348.66 129.07 366.49 106.44C394.24 71.22 421.98 50.83 449.73 50.83" stroke="#EDB120" stroke-opacity="0.85"/>
<path d="M449.73 50.83C478.77 50.83 507.82 70.13 536.86 108.73" stroke="#EDB120" stroke-opacity="0.6"/>
<path d="M312.99 193.57C330.63 158.17 348.27 128.99 365.9 106.34C393.35 71.08 420.8 50.67 448.25 50.67" stroke="#7E2F8E" stroke-opacity="0.85"/>
<path d="M448.25 50.67C477.79 50.67 507.32 71.08 536.86 111.91" stroke="#7E2F8E" stroke-opacity="0.6"/>
<path d="M312.99 193.52C330.43 158.1 347.87 128.9 365.31 106.24C392.47 70.95 419.62 50.51 446.78 50.51" stroke="#77AC30" stroke-opacity="0.85"/>
<path d="M446.78 50.51C476.8 50.51 506.83 72.09 536.86 115.26" stroke="#77AC30" stroke-opacity="0.6"/>
<path d="M312.99 193.48C330.24 158.04 347.48 128.82 364.72 106.14C391.58 70.81 418.44 50.35 445.3 50.35" stroke="#4DBEEE" stroke-opacity="0.85"/>
<path d="M445.3 50.35C475.82 50.35 506.34 73.16 536.86 118.79" stroke="#4DBEEE" stroke-opacity="0.6"/>
<path d="M312.99 193.43C330.04 157.97 347.08 128.73 364.13 106.04C390.69 70.67 417.26 50.19 443.82 50.19" stroke="#A2142F" stroke-opacity="0.85"/>
<path d="M443.82 50.19C474.84 50.19 505.85 74.3 536.86 122.51" stroke="#A2142F" stroke-opacity="0.6"/>
<path d="M312.99 193.37C329.84 157.9 346.69 128.65 363.54 105.94C389.81 70.53 416.08 50.02 442.35 50.02" stroke="#0072BD" stroke-opacity="0.85"/>
<path d="M442.35 50.02C473.85 50.02 505.36 75.49 536.86 126.43" stroke="#0072BD" stroke-opacity="0.6"/>
<path d="M312.99 193.32C329.65 157.83 346.3 128.56 362.95 105.83C388.92 70.38 414.9 49.86 440.87 49.86" stroke="#D95319" stroke-opacity="0.85"/>
<path d="M440.87 49.86C472.87 49.86 504.86 76.76 536.86 130.56" stroke="#D95319" stroke-opacity="0.6"/>
<path d="M312.99 193.27C329.45 157.75 345.9 128.47 362.36 105.73C388.04 70.24 413.72 49.69 439.4 49.69" stroke="#EDB120" stroke-opacity="0.85"/>
<path d="M439.4 49.69C471.88 49.69 504.37 78.1 536.86 134.91" stroke="#EDB120" stroke-opacity="0.6"/>
<path d="M312.99 193.21C329.25 157.68 345.51 128.38 361.77 105.62C387.15 70.09 412.54 49.52 437.92 49.52" stroke="#7E2F8E" stroke-opacity="0.85"/>
<path d="M437.92 49.52C470.9 49.52 503.88 79.51 536.86 139.5" stroke="#7E2F8E" stroke-opacity="0.6"/>
<path d="M312.99 193.16C329.06 157.61 345.12 128.29 361.18 105.51C386.27 69.94 411.36 49.34 436.45 49.34" stroke="#77AC30" stroke-opacity="0.85"/>
<path d="M436.45 49.34C469.92 49.34 503.39 81.01 536.86 144.34" stroke="#77AC30" stroke-opacity="0.6"/>
<path d="M312.99 193.1C328.86 157.53 344.72 128.19 360.59 105.4C385.38 69.79 410.18 49.17 434.97 49.17" stroke="#4DBEEE" stroke-opacity="0.85"/>
<path d="M434.97 49.17C468.93 49.17 502.9 82.59 536.86 149.44" stroke="#4DBEEE" stroke-opacity="0.6"/>
<path d="M312.99 193.04C328.66 157.45 344.33 128.1 360 105.29C384.5 69.64 409 48.99 433.49 48.99" stroke="#A2142F" stroke-opacity="0.85"/>
<path d="M433.49 48.99C467.95 48.99 502.4 84.26 536.86 154.81" stroke="#A2142F" stroke-opacity="0.6"/>
<path d="M312.99 192.98C328.46 157.37 343.94 128 359.41 105.18C383.61 69.48 407.81 48.81 432.02 48.81" stroke="#0072BD" stroke-opacity="0.85"/>
<path d="M432.02 48.81C466.97 48.81 501.91 86.03 536.86 160.48" stroke="#0072BD" stroke-opacity="0.6"/>
<path d="M312.99 192.92C328.27 157.29 343.54 127.91 358.82 105.07C382.73 69.32 406.63 48.63 430.54 48.63" stroke="#D95319" stroke-opacity="0.85"/>
<path d="M430.54 48.63C465.98 48.63 501.42 87.91 536.86 166.46" stroke="#D95319" stroke-opacity="0.6"/>
<path d="M312.99 192.85C328.07 157.21 343.15 127.81 358.23 104.95C381.84 69.16 405.45 48.44 429.07 48.44" stroke="#EDB120" stroke-opacity="0.85"/>
<path d="M429.07 48.44C465 48.44 500.93 89.89 536.86 172.77" stroke="#EDB120" stroke-opacity="0.6"/>
<path d="M312.99 192.79C327.87 157.13 342.76 127.71 357.64 104.84C380.95 69 404.27 48.25 427.59 48.25" stroke="#7E2F8E" stroke-opacity="0.85"/>
<path d="M427.59 48.25C464.01 48.25 500.44 91.98 536.86 179.43" stroke="#7E2F8E" stroke-opacity="0.6"/>
<path d="M312.99 192.72C327.68 157.04 342.36 127.6 357.05 104.72C380.07 68.84 403.09 48.06 426.12 48.06" stroke="#77AC30" stroke-opacity="0.85"/>
<path d="M426.12 48.06C463.03 48.06 499.95 94.2 536.86 186.46" stroke="#77AC30" stroke-opacity="0.6"/>
<path d="M312.99 192.65C327.48 156.95 341.97 127.5 356.46 104.6C379.18 68.67 401.91 47.87 424.64 47.87" stroke="#4DBEEE" stroke-opacity="0.85"/>
<path d="M424.64 47.87C462.05 47.87 499.45 96.54 536.86 193.89" stroke="#4DBEEE" stroke-opacity="0.6"/>
<path d="M312.99 192.58C327.28 156.87 341.57 127.39 355.87 104.48C378.3 68.5 400.73 47.68 423.16 47.68" stroke="#A2142F" stroke-opacity="0.85"/>
<path d="M423.16 47.68C460.55 47.68 497.94 97.65 535.33 197.6" stroke="#A2142F" stroke-opacity="0.6"/>
<path d="M312.99 192.5C327.09 156.78 341.18 127.29 355.27 104.35C377.41 68.33 399.55 47.48 421.69 47.48" stroke="#0072BD" stroke-opacity="0.85"/>
<path d="M421.69 47.48C458.58 47.48 495.48 97.52 532.38 197.6" stroke="#0072BD" stroke-opacity="0.6"/>
<path d="M312.99 192.43C326.89 156.68 340.79 127.18 354.68 104.23C376.53 68.16 398.37 47.28 420.21 47.28" stroke="#D95319" stroke-opacity="0.85"/>
<path d="M420.21 47.28C456.62 47.28 493.02 97.38 529.42 197.6" stroke="#D95319" stroke-opacity="0.6"/>
<path d="M312.99 192.35C326.69 156.59 340.39 127.07 354.09 104.1C375.64 67.98 397.19 47.07 418.74 47.07" stroke="#EDB120" stroke-opacity="0.85"/>
<path d="M418.74 47.07C454.65 47.07 490.56 97.25 526.47 197.6" stroke="#EDB120" stroke-opacity="0.6"/>
<path d="M312.99 192.27C326.5 156.49 340 126.95 353.5 103.97C374.76 67.8 396.01 46.86 417.26 46.86" stroke="#7E2F8E" stroke-opacity="0.85"/>
<path d="M417.26 46.86C452.68 46.86 488.1 97.11 523.52 197.6" stroke="#7E2F8E" stroke-opacity="0.6"/>
<path d="M312.99 192.19C326.3 156.39 339.61 126.84 352.91 103.84C373.87 67.62 394.83 46.65 415.78 46.65" stroke="#77AC30" stroke-opacity="0.85"/>
<path d="M415.78 46.65C450.71 46.65 485.64 96.97 520.57 197.6" stroke="#77AC30" stroke-opacity="0.6"/>
<path d="M312.99 192.11C326.1 156.29 339.21 126.72 352.32 103.71C372.99 67.44 393.65 46.44 414.31 46.44" stroke="#4DBEEE" stroke-opacity="0.85"/>
<path d="M414.31 46.44C448.74 46.44 483.18 96.82 517.62 197.6" stroke="#4DBEEE" stroke-opacity="0.6"/>
<path d="M312.99 192.02C325.91 156.19 338.82 126.6 351.73 103.57C372.1 67.25 392.47 46.22 412.83 46.22" stroke="#A2142F" stroke-opacity="0.85"/>
<path d="M412.83 46.22C446.78 46.22 480.72 96.68 514.66 197.6" stroke="#A2142F" stroke-opacity="0.6"/>
<path d="M312.99 191.93C325.71 156.08 338.43 126.48 351.14 103.44C371.21 67.06 391.29 46 411.36 46" stroke="#0072BD" stroke-opacity="0.85"/>
<path d="M411.36 46C444.81 46 478.26 96.53 511.71 197.6" stroke="#0072BD" stroke-opacity="0.6"/>
<path d="M312.99 191.84C325.51 155.98 338.03 126.36 350.55 103.3C370.33 66.87 390.1 45.77 409.88 45.77" stroke="#D95319" stroke-opacity="0.85"/>
<path d="M409.88 45.77C442.84 45.77 475.8 96.38 508.76 197.6" stroke="#D95319" stroke-opacity="0.6"/>
<path d="M312.99 191.74C325.32 155.87 337.64 126.23 349.96 103.15C369.44 66.67 388.92 45.55 408.4 45.55" stroke="#EDB120" stroke-opacity="0.85"/>
<path d="M408.4 45.55C440.87 45.55 473.34 96.23 505.81 197.6" stroke="#EDB120" stroke-opacity="0.6"/>
<path d="M312.99 191.64C325.12 155.75 337.25 126.1 349.37 103.01C368.56 66.47 387.74 45.31 406.93 45.31" stroke="#7E2F8E" stroke-opacity="0.85"/>
<path d="M406.93 45.31C438.91 45.31 470.88 96.08 502.86 197.6" stroke="#7E2F8E" stroke-opacity="0.6"/>
<path d="M312.99 191.54C324.92 155.64 336.85 125.97 348.78 102.86C367.67 66.26 386.56 45.08 405.45 45.08" stroke="#77AC30" stroke-opacity="0.85"/>
<path d="M405.45 45.08C436.94 45.08 468.42 95.92 499.91 197.6" stroke="#77AC30" stroke-opacity="0.6"/>
<path d="M312.99 191.44C324.73 155.52 336.46 125.84 348.19 102.71C366.79 66.06 385.38 44.84 403.98 44.84" stroke="#4DBEEE" stroke-opacity="0.85"/>
<path d="M403.98 44.84C434.97 44.84 465.96 95.76 496.96 197.6" stroke="#4DBEEE" stroke-opacity="0.6"/>
<path d="M312.99 191.33C324.53 155.4 336.06 125.7 347.6 102.56C365.9 65.85 384.2 44.59 402.5 44.59" stroke="#A2142F" stroke-opacity="0.85"/>
<path d="M402.5 44.59C433 44.59 463.5 95.59 494 197.6" stroke="#A2142F" stroke-opacity="0.6"/>
<path d="M312.99 191.22C324.33 155.27 335.67 125.57 347.01 102.41C365.02 65.63 383.02 44.34 401.03 44.34" stroke="#0072BD" stroke-opacity="0.85"/>
<path d="M401.03 44.34C431.03 44.34 461.04 95.43 491.05 197.6" stroke="#0072BD" stroke-opacity="0.6"/>
<path d="M312.99 191.1C324.14 155.14 335.28 125.42 346.42 102.25C364.13 65.41 381.84 44.09 399.55 44.09" stroke="#D95319" stroke-opacity="0.85"/>
<path d="M399.55 44.09C429.07 44.09 458.58 95.26 488.1 197.6" stroke="#D95319" stroke-opacity="0.6"/>
<path d="M312.99 190.98C323.94 155.01 334.88 125.28 345.83 102.09C363.24 65.19 380.66 43.83 398.07 43.83" stroke="#EDB120" stroke-opacity="0.85"/>
<path d="M398.07 43.83C427.1 43.83 456.12 95.09 485.15 197.6" stroke="#EDB120" stroke-opacity="0.6"/>
<path d="M312.99 190.86C323.74 154.88 334.49 125.13 345.24 101.93C362.36 64.97 379.48 43.57 396.6 43.57" stroke="#7E2F8E" stroke-opacity="0.85"/>
<path d="M396.6 43.57C425.13 43.57 453.66 94.91 482.2 197.6" stroke="#7E2F8E" stroke-opacity="0.6"/>
<path d="M312.99 190.73C323.55 154.74 334.1 124.98 344.65 101.76C361.47 64.73 378.3 43.3 395.12 43.3" stroke="#77AC30" stroke-opacity="0.85"/>
<path d="M395.12 43.3C423.16 43.3 451.2 94.73 479.25 197.6" stroke="#77AC30" stroke-opacity="0.6"/>
<path d="M312.99 190.59C323.35 154.6 333.7 124.82 344.06 101.59C360.59 64.5 377.12 43.03 393.65 43.03" stroke="#4DBEEE" stroke-opacity="0.85"/>
<path d="M393.65 43.03C421.2 43.03 448.74 94.55 476.29 197.6" stroke="#4DBEEE" stroke-opacity="0.6"/>
<path d="M312.99 190.45C323.15 154.45 333.31 124.67 343.47 101.42C359.7 64.26 375.94 42.75 392.17 42.75" stroke="#A2142F" stroke-opacity="0.85"/>
<path d="M392.17 42.75C419.23 42.75 446.28 94.37 473.34 197.6" stroke="#A2142F" stroke-opacity="0.6"/>
<path d="M312.99 190.31C322.95 154.3 332.92 124.5 342.88 101.24C358.82 64.01 374.76 42.46 390.69 42.46" stroke="#0072BD" stroke-opacity="0.85"/>
<path d="M390.69 42.46C417.26 42.46 443.82 94.18 470.39 197.6" stroke="#0072BD" stroke-opacity="0.6"/>
<path d="M312.99 190.16C322.76 154.14 332.52 124.34 342.29 101.06C357.93 63.76 373.58 42.17 389.22 42.17" stroke="#D95319" stroke-opacity="0.85"/>
<path d="M389.22 42.17C415.29 42.17 441.37 93.98 467.44 197.6" stroke="#D95319" stroke-opacity="0.6"/>
<path d="M312.99 190C322.56 153.98 332.13 124.17 341.7 100.88C357.05 63.51 372.39 41.88 387.74 41.88" stroke="#EDB120" stroke-opacity="0.85"/>
<path d="M387.74 41.88C413.32 41.88 438.91 93.78 464.49 197.6" stroke="#EDB120" stroke-opacity="0.6"/>
<path d="M312.99 189.84C322.36 153.81 331.74 123.99 341.11 100.69C356.16 63.25 371.21 41.57 386.27 41.57" stroke="#7E2F8E" stroke-opacity="0.85"/>
<path d="M386.27 41.57C411.36 41.57 436.45 93.58 461.53 197.6" stroke="#7E2F8E" stroke-opacity="0.6"/>
<path d="M312.99 189.67C322.17 153.64 331.34 123.81 340.52 100.5C355.27 62.98 370.03 41.26 384.79 41.26" stroke="#77AC30" stroke-opacity="0.85"/>
<path d="M384.79 41.26C409.39 41.26 433.99 93.38 458.58 197.6" stroke="#77AC30" stroke-opacity="0.6"/>
<path d="M312.99 189.5C321.97 153.47 330.95 123.63 339.93 100.3C354.39 62.71 368.85 40.95 383.32 40.95" stroke="#4DBEEE" stroke-opacity="0.85"/>
<path d="M383.32 40.95C407.42 40.95 431.53 93.17 455.63 197.6" stroke="#4DBEEE" stroke-opacity="0.6"/>
<path d="M312.99 189.31C321.77 153.28 330.56 123.44 339.34 100.1C353.5 62.43 367.67 40.63 381.84 40.63" stroke="#A2142F" stroke-opacity="0.85"/>
<path d="M381.84 40.63C405.45 40.63 429.07 92.95 452.68 197.6" stroke="#A2142F" stroke-opacity="0.6"/>
<path d="M312.99 189.12C321.58 153.09 330.16 123.25 338.75 99.89C352.62 62.15 366.49 40.29 380.36 40.29" stroke="#0072BD" stroke-opacity="0.85"/>
<path d="M380.36 40.29C403.49 40.29 426.61 92.73 449.73 197.6" stroke="#0072BD" stroke-opacity="0.6"/>
<path d="M312.99 188.92C321.38 152.9 329.77 123.05 338.16 99.68C351.73 61.86 365.31 39.96 378.89 39.96" stroke="#D95319" stroke-opacity="0.85"/>
<path d="M378.89 39.96C401.52 39.96 424.15 92.5 446.78 197.6" stroke="#D95319" stroke-opacity="0.6"/>
<path d="M312.99 188.71C321.18 152.69 329.37 122.84 337.56 99.47C350.85 61.56 364.13 39.61 377.41 39.61" stroke="#EDB120" stroke-opacity="0.85"/>
<path d="M377.41 39.61C399.55 39.61 421.69 92.27 443.82 197.6" stroke="#EDB120" stroke-opacity="0.6"/>
<path d="M312.99 188.49C320.99 152.48 328.98 122.63 336.97 99.25C349.96 61.25 362.95 39.25 375.94 39.25" stroke="#7E2F8E" stroke-opacity="0.85"/>
<path d="M375.94 39.25C397.58 39.25 419.23 92.04 440.87 197.6" stroke="#7E2F8E" stroke-opacity="0.6"/>
<path d="M312.99 188.26C320.79 152.26 328.59 122.41 336.38 99.02C349.08 60.94 361.77 38.89 374.46 38.89" stroke="#77AC30" stroke-opacity="0.85"/>
<path d="M374.46 38.89C395.61 38.89 416.77 91.79 437.92 197.6" stroke="#77AC30" stroke-opacity="0.6"/>
<path d="M312.99 188.02C320.59 152.03 328.19 122.19 335.79 98.79C348.19 60.61 360.59 38.52 372.99 38.52" stroke="#4DBEEE" stroke-opacity="0.85"/>
<path d="M372.99 38.52C393.65 38.52 414.31 91.54 434.97 197.6" stroke="#4DBEEE" stroke-opacity="0.6"/>
<path d="M312.99 187.77C320.4 151.8 327.8 121.96 335.2 98.55C347.31 60.28 359.41 38.13 371.51 38.13" stroke="#A2142F" stroke-opacity="0.85"/>
<path d="M371.51 38.13C391.68 38.13 411.85 91.29 432.02 197.6" stroke="#A2142F" stroke-opacity="0.6"/>
<path d="M312.99 187.5C320.2 151.55 327.41 121.72 334.61 98.3C346.42 59.94 358.23 37.74 370.03 37.74" stroke="#0072BD" stroke-opacity="0.85"/>
<path d="M370.03 37.74C389.71 37.74 409.39 91.02 429.07 197.6" stroke="#0072BD" stroke-opacity="0.6"/>
<path d="M312.99 187.22C320 151.29 327.01 121.47 334.02 98.05C345.53 59.6 357.05 37.33 368.56 37.33" stroke="#D95319" stroke-opacity="0.85"/>
<path d="M368.56 37.33C387.74 37.33 406.93 90.75 426.12 197.6" stroke="#D95319" stroke-opacity="0.6"/>
<path d="M312.99 186.92C319.81 151.02 326.62 121.21 333.43 97.79C344.65 59.24 355.87 36.91 367.08 36.91" stroke="#EDB120" stroke-opacity="0.85"/>
<path d="M367.08 36.91C385.78 36.91 404.47 90.48 423.16 197.6" stroke="#EDB120" stroke-opacity="0.6"/>
<path d="M312.99 186.61C319.61 150.74 326.23 120.95 332.84 97.53C343.76 58.87 354.68 36.49 365.61 36.49" stroke="#7E2F8E" stroke-opacity="0.85"/>
<path d="M365.61 36.49C383.81 36.49 402.01 90.19 420.21 197.6" stroke="#7E2F8E" stroke-opacity="0.6"/>
<path d="M312.99 186.28C319.41 150.44 325.83 120.67 332.25 97.25C342.88 58.49 353.5 36.04 364.13 36.04" stroke="#77AC30" stroke-opacity="0.85"/>
<path d="M364.13 36.04C381.84 36.04 399.55 89.9 417.26 197.6" stroke="#77AC30" stroke-opacity="0.6"/>
<path d="M312.99 185.93C319.22 150.13 325.44 120.39 331.66 96.97C341.99 58.09 352.32 35.59 362.65 35.59" stroke="#4DBEEE" stroke-opacity="0.85"/>
<path d="M362.65 35.59C379.87 35.59 397.09 89.59 414.31 197.6" stroke="#4DBEEE" stroke-opacity="0.6"/>
<path d="M312.99 185.56C319.02 149.81 325.05 120.09 331.07 96.68C341.11 57.69 351.14 35.12 361.18 35.12" stroke="#A2142F" stroke-opacity="0.85"/>
<path d="M361.18 35.12C377.9 35.12 394.63 89.28 411.36 197.6" stroke="#A2142F" stroke-opacity="0.6"/>
<path d="M312.99 185.16C318.82 149.47 324.65 119.78 330.48 96.38C340.22 57.27 349.96 34.63 359.7 34.63" stroke="#0072BD" stroke-opacity="0.85"/>
<path d="M359.7 34.63C375.94 34.63 392.17 88.95 408.4 197.6" stroke="#0072BD" stroke-opacity="0.6"/>
<path d="M312.99 184.74C318.63 149.11 324.26 119.45 329.89 96.06C339.34 56.84 348.78 34.13 358.23 34.13" stroke="#D95319" stroke-opacity="0.85"/>
<path d="M358.23 34.13C373.97 34.13 389.71 88.62 405.45 197.6" stroke="#D95319" stroke-opacity="0.6"/>
<path d="M312.99 184.29C318.43 148.73 323.86 119.12 329.3 95.74C338.45 56.39 347.6 33.61 356.75 33.61" stroke="#EDB120" stroke-opacity="0.85"/>
<path d="M356.75 33.61C372 33.61 387.25 88.27 402.5 197.6" stroke="#EDB120" stroke-opacity="0.6"/>
<path d="M312.99 183.81C318.23 148.32 323.47 118.76 328.71 95.41C337.56 55.93 346.42 33.07 355.27 33.07" stroke="#7E2F8E" stroke-opacity="0.85"/>
<path d="M355.27 33.07C370.03 33.07 384.79 87.91 399.55 197.6" stroke="#7E2F8E" stroke-opacity="0.6"/>
<path d="M312.99 183.3C318.04 147.9 323.08 118.39 328.12 95.06C336.68 55.45 345.24 32.51 353.8 32.51" stroke="#77AC30" stroke-opacity="0.85"/>
<path d="M353.8 32.51C368.07 32.51 382.33 87.54 396.6 197.6" stroke="#77AC30" stroke-opacity="0.6"/>
<path d="M312.99 182.75C317.84 147.44 322.68 118 327.53 94.7C335.79 54.95 344.06 31.93 352.32 31.93" stroke="#4DBEEE" stroke-opacity="0.85"/>
<path d="M352.32 31.93C366.1 31.93 379.87 87.15 393.65 197.6" stroke="#4DBEEE" stroke-opacity="0.6"/>
<path d="M312.99 182.15C317.64 146.96 322.29 117.59 326.94 94.32C334.91 54.43 342.88 31.33 350.85 31.33" stroke="#A2142F" stroke-opacity="0.85"/>
<path d="M350.85 31.33C364.13 31.33 377.41 86.75 390.69 197.6" stroke="#A2142F" stroke-opacity="0.6"/>
<path d="M312.99 181.51C317.45 146.45 321.9 117.16 326.35 93.93C334.02 53.89 341.7 30.7 349.37 30.7" stroke="#0072BD" stroke-opacity="0.85"/>
<path d="M349.37 30.7C362.16 30.7 374.95 86.33 387.74 197.6" stroke="#0072BD" stroke-opacity="0.6"/>
<path d="M312.99 180.82C317.25 145.9 321.5 116.71 325.76 93.53C333.14 53.32 340.52 30.04 347.9 30.04" stroke="#D95319" stroke-opacity="0.85"/>
<path d="M347.9 30.04C360.19 30.04 372.49 85.9 384.79 197.6" stroke="#D95319" stroke-opacity="0.6"/>
<path d="M312.99 180.07C317.05 145.3 321.11 116.23 325.17 93.1C332.25 52.73 339.34 29.36 346.42 29.36" stroke="#EDB120" stroke-opacity="0.85"/>
<path d="M346.42 29.36C358.23 29.36 370.03 85.44 381.84 197.6" stroke="#EDB120" stroke-opacity="0.6"/>
<path d="M312.99 179.25C316.85 144.66 320.72 115.71 324.58 92.65C331.37 52.11 338.16 28.64 344.94 28.64" stroke="#7E2F8E" stroke-opacity="0.85"/>
<path d="M344.94 28.64C356.26 28.64 367.57 84.96 378.89 197.6" stroke="#7E2F8E" stroke-opacity="0.6"/>
<path d="M312.99 178.35C316.66 143.97 320.32 115.17 323.99 92.19C330.48 51.46 336.97 27.89 343.47 27.89" stroke="#77AC30" stroke-opacity="0.85"/>
<path d="M343.47 27.89C354.29 27.89 365.11 84.46 375.94 197.6" stroke="#77AC30" stroke-opacity="0.6"/>
<path d="M312.99 177.37C316.46 143.22 319.93 114.58 323.4 91.7C329.6 50.78 335.79 27.1 341.99 27.1" stroke="#4DBEEE" stroke-opacity="0.85"/>
<path d="M341.99 27.1C352.32 27.1 362.65 83.93 372.99 197.6" stroke="#4DBEEE" stroke-opacity="0.6"/>
<path d="M312.99 176.29C316.26 142.41 319.54 113.96 322.81 91.18C328.71 50.06 334.61 26.26 340.52 26.26" stroke="#A2142F" stroke-opacity="0.85"/>
<path d="M340.52 26.26C350.36 26.26 360.19 83.38 370.03 197.6" stroke="#A2142F" stroke-opacity="0.6"/>
<path d="M312.99 175.09C316.07 141.51 319.14 113.28 322.22 90.63C327.82 49.31 333.43 25.38 339.04 25.38" stroke="#0072BD" stroke-opacity="0.85"/>
<path d="M339.04 25.38C348.39 25.38 357.73 82.79 367.08 197.6" stroke="#0072BD" stroke-opacity="0.6"/>
<path d="M312.99 173.75C315.87 140.53 318.75 112.55 321.63 90.05C326.94 48.5 332.25 24.45 337.56 24.45" stroke="#D95319" stroke-opacity="0.85"/>
<path d="M337.56 24.45C346.42 24.45 355.27 82.17 364.13 197.6" stroke="#D95319" stroke-opacity="0.6"/>
<path d="M312.99 172.25C315.67 139.44 318.35 111.76 321.04 89.43C326.05 47.65 331.07 23.46 336.09 23.46" stroke="#EDB120" stroke-opacity="0.85"/>
<path d="M336.09 23.46C344.45 23.46 352.82 81.5 361.18 197.6" stroke="#EDB120" stroke-opacity="0.6"/>
<path d="M312.99 170.57C315.48 138.22 317.96 110.89 320.45 88.78C325.17 46.74 329.89 22.4 334.61 22.4" stroke="#7E2F8E" stroke-opacity="0.85"/>
<path d="M334.61 22.4C342.48 22.4 350.36 80.8 358.23 197.6" stroke="#7E2F8E" stroke-opacity="0.6"/>
<path d="M312.99 168.66C315.28 136.86 317.57 109.93 319.86 88.07C324.28 45.76 328.71 21.26 333.14 21.26" stroke="#77AC30" stroke-opacity="0.85"/>
<path d="M333.14 21.26C340.52 21.26 347.9 80.04 355.27 197.6" stroke="#77AC30" stroke-opacity="0.6"/>
<path d="M312.99 166.47C315.08 135.32 317.17 108.87 319.26 87.31C323.4 44.71 327.53 20.04 331.66 20.04" stroke="#4DBEEE" stroke-opacity="0.85"/>
<path d="M331.66 20.04C338.55 20.04 345.44 79.23 352.32 197.6" stroke="#4DBEEE" stroke-opacity="0.6"/>
<path d="M312.99 163.95C314.89 133.55 316.78 107.67 318.67 86.49C322.51 43.57 326.35 18.72 330.19 18.72" stroke="#A2142F" stroke-opacity="0.85"/>
<path d="M330.19 18.72C336.58 18.72 342.98 78.35 349.37 197.6" stroke="#A2142F" stroke-opacity="0.6"/>
<path d="M312.99 161C314.69 131.52 316.39 106.33 318.08 85.6C321.63 42.33 325.17 17.28 328.71 17.28" stroke="#0072BD" stroke-opacity="0.85"/>
<path d="M328.71 17.28C334.61 17.28 340.52 77.39 346.42 197.6" stroke="#0072BD" stroke-opacity="0.6"/>
<path d="M312.99 157.52C314.49 129.14 315.99 104.79 317.49 84.62C320.74 40.98 323.99 15.71 327.23 15.71" stroke="#D95319" stroke-opacity="0.85"/>
<path d="M327.23 15.71C332.65 15.71 338.06 76.34 343.47 197.6" stroke="#D95319" stroke-opacity="0.6"/>
<path d="M312.99 153.35C314.3 126.31 315.6 103 316.9 83.54C319.86 39.48 322.81 13.97 325.76 13.97" stroke="#EDB120" stroke-opacity="0.85"/>
<path d="M325.76 13.97C330.68 13.97 335.6 75.18 340.52 197.6" stroke="#EDB120" stroke-opacity="0.6"/>
<path d="M312.99 148.28C314.1 122.9 315.21 100.88 316.31 82.33C318.97 37.8 321.63 12.02 324.28 12.02" stroke="#7E2F8E" stroke-opacity="0.85"/>
<path d="M324.28 12.02C328.71 12.02 333.14 73.88 337.56 197.6" stroke="#7E2F8E" stroke-opacity="0.6"/>
<path d="M312.99 141.97C313.9 118.69 314.81 98.32 315.72 80.96C318.08 35.91 320.45 9.82 322.81 9.82" stroke="#77AC30" stroke-opacity="0.85"/>
<path d="M322.81 9.82C326.74 9.82 330.68 72.41 334.61 197.6" stroke="#77AC30" stroke-opacity="0.6"/>
<path d="M312.99 133.93C313.71 113.36 314.42 95.15 315.13 79.4C317.2 33.73 319.26 7.3 321.33 7.3" stroke="#4DBEEE" stroke-opacity="0.85"/>
<path d="M321.33 7.3C324.77 7.3 328.22 70.73 331.66 197.6" stroke="#4DBEEE" stroke-opacity="0.6"/>
<path d="M312.99 123.38C313.51 106.37 314.03 91.08 314.54 77.56C316.31 31.19 318.08 4.34 319.86 4.34" stroke="#A2142F" stroke-opacity="0.85"/>
<path d="M319.86 4.34C322.81 4.34 325.76 68.76 328.71 197.6" stroke="#A2142F" stroke-opacity="0.6"/>
<path d="M312.99 108.98C313.31 96.79 313.63 85.57 313.95 75.35C315.43 28.13 316.9 0.79 318.38 0.79" stroke="#0072BD" stroke-opacity="0.85"/>
<path d="M318.38 0.79C320.84 0.79 323.3 66.39 325.76 197.6" stroke="#0072BD" stroke-opacity="0.6"/>
<path d="M312.99 88.35C313.12 82.86 313.24 77.61 313.36 72.59C314.54 24.3 315.72 -3.66 316.9 -3.66" stroke="#D95319" stroke-opacity="0.85"/>
<path d="M316.9 -3.66C318.87 -3.66 320.84 63.43 322.81 197.6" stroke="#D95319" stroke-opacity="0.6"/>
<path d="M312.99 56.94C313.8 14.84 314.62 -9.53 315.43 -9.53" stroke="#EDB120" stroke-opacity="0.85"/>
<path d="M315.43 -9.53C316.9 -9.53 318.38 59.51 319.86 197.6" stroke="#EDB120" stroke-opacity="0.6"/>
<path d="M312.99 7.34C313.31 -8.77 313.63 -18.1 313.95 -18.1" stroke="#7E2F8E" stroke-opacity="0.85"/>
<path d="M313.95 -18.1C314.94 -18.1 315.92 53.8 316.9 197.6" stroke="#7E2F8E" stroke-opacity="0.6"/>
<path d="" stroke="#77AC30" stroke-opacity="0.85"/>
<path d="M312.99 -5.16C313.31 29.94 313.63 97.52 313.95 197.6" stroke="#77AC30" stroke-opacity="0.6"/>
</g></g>
<rect x="311" y="16.4" width="230" height="181.2" fill="none" stroke="#8a8a8a" stroke-width="0.6"/>
<path d="M311 197.6v-2M311 16.4v2M349.33 197.6v-2M349.33 16.4v2M387.67 197.6v-2M387.67 16.4v2M426 197.6v-2M426 16.4v2M464.33 197.6v-2M464.33 16.4v2M502.67 197.6v-2M502.67 16.4v2M541 197.6v-2M541 16.4v2M311 197.6h2M541 197.6h-2M311 179.48h2M541 179.48h-2M311 161.36h2M541 161.36h-2M311 143.24h2M541 143.24h-2M311 125.12h2M541 125.12h-2M311 107h2M541 107h-2M311 88.88h2M541 88.88h-2M311 70.76h2M541 70.76h-2M311 52.64h2M541 52.64h-2M311 34.52h2M541 34.52h-2M311 16.4h2M541 16.4h-2" stroke="#8a8a8a" stroke-width="0.6" fill="none"/>
<g font-family="Liberation Sans, Arial, sans-serif" font-size="7.2" fill="#262626" stroke="#262626" stroke-width="0.2">
<text x="311" y="208.6" text-anchor="middle">0</text>
<text x="349.33" y="208.6" text-anchor="middle">50</text>
<text x="387.67" y="208.6" text-anchor="middle">100</text>
<text x="426" y="208.6" text-anchor="middle">150</text>
<text x="464.33" y="208.6" text-anchor="middle">200</text>
<text x="502.67" y="208.6" text-anchor="middle">250</text>
<text x="541" y="208.6" text-anchor="middle">300</text>
<text x="308.6" y="200.8" text-anchor="end">0</text>
<text x="308.6" y="182.68" text-anchor="end">10</text>
<text x="308.6" y="164.56" text-anchor="end">20</text>
<text x="308.6" y="146.44" text-anchor="end">30</text>
<text x="308.6" y="128.32" text-anchor="end">40</text>
<text x="308.6" y="110.2" text-anchor="end">50</text>
<text x="308.6" y="92.08" text-anchor="end">60</text>
<text x="308.6" y="73.96" text-anchor="end">70</text>
<text x="308.6" y="55.84" text-anchor="end">80</text>
<text x="308.6" y="37.72" text-anchor="end">90</text>
<text x="308.6" y="19.6" text-anchor="end">100</text>
</g>
<text x="426" y="221.3" text-anchor="middle" font-family="Liberation Sans, Arial, sans-serif" font-size="7.8" fill="#262626">Flow [m<tspan font-size="5.85" dx="0.4" dy="-3.9">3</tspan><tspan dy="3.9">/h]</tspan></text>
<text transform="translate(291.6 107) rotate(-90)" text-anchor="middle" font-family="Liberation Sans, Arial, sans-serif" font-size="7.8" fill="#262626">Efficiency [%]</text>
<text x="426" y="13" text-anchor="middle" font-family="Liberation Sans, Arial, sans-serif" font-weight="bold" font-size="7.78" fill="#000" xml:space="preserve">Pump Efficiency-Flow curve (Dutchi Motors DM1 225M4)</text>
<rect x="488.3" y="22.3" width="47.2" height="88.6" fill="#fff" stroke="#8a8a8a" stroke-width="0.6"/>
<path d="M490.4 27.4H512" stroke="#0072BD" stroke-width="1.8"/>
<text x="533.2" y="29.9" text-anchor="end" font-family="Liberation Sans, Arial, sans-serif" font-size="6.3" fill="#262626">50 [Hz]</text>
<path d="M490.4 36.2H512" stroke="#D95319" stroke-width="1.8"/>
<text x="533.2" y="38.7" text-anchor="end" font-family="Liberation Sans, Arial, sans-serif" font-size="6.3" fill="#262626">45 [Hz]</text>
<path d="M490.4 45H512" stroke="#EDB120" stroke-width="1.8"/>
<text x="533.2" y="47.5" text-anchor="end" font-family="Liberation Sans, Arial, sans-serif" font-size="6.3" fill="#262626">40 [Hz]</text>
<path d="M490.4 53.8H512" stroke="#7E2F8E" stroke-width="1.8"/>
<text x="533.2" y="56.3" text-anchor="end" font-family="Liberation Sans, Arial, sans-serif" font-size="6.3" fill="#262626">35 [Hz]</text>
<path d="M490.4 62.6H512" stroke="#77AC30" stroke-width="1.8"/>
<text x="533.2" y="65.1" text-anchor="end" font-family="Liberation Sans, Arial, sans-serif" font-size="6.3" fill="#262626">30 [Hz]</text>
<path d="M490.4 71.4H512" stroke="#4DBEEE" stroke-width="1.8"/>
<text x="533.2" y="73.9" text-anchor="end" font-family="Liberation Sans, Arial, sans-serif" font-size="6.3" fill="#262626">25 [Hz]</text>
<path d="M490.4 80.2H512" stroke="#A2142F" stroke-width="1.8"/>
<text x="533.2" y="82.7" text-anchor="end" font-family="Liberation Sans, Arial, sans-serif" font-size="6.3" fill="#262626">20 [Hz]</text>
<path d="M490.4 89H512" stroke="#0072BD" stroke-width="1.8"/>
<text x="533.2" y="91.5" text-anchor="end" font-family="Liberation Sans, Arial, sans-serif" font-size="6.3" fill="#262626">15 [Hz]</text>
<path d="M490.4 97.8H512" stroke="#D95319" stroke-width="1.8"/>
<text x="533.2" y="100.3" text-anchor="end" font-family="Liberation Sans, Arial, sans-serif" font-size="6.3" fill="#262626">10 [Hz]</text>
<path d="M490.4 106.6H512" stroke="#EDB120" stroke-width="1.8"/>
<text x="533.2" y="109.1" text-anchor="end" font-family="Liberation Sans, Arial, sans-serif" font-size="6.3" fill="#262626">5 [Hz]</text>
<text x="137" y="242.4" text-anchor="middle" font-family="Liberation Serif, Times New Roman, serif" font-size="11.2" fill="#000">(<tspan font-weight="bold">a</tspan>)</text>
<text x="417.4" y="242.4" text-anchor="middle" font-family="Liberation Serif, Times New Roman, serif" font-size="11.2" fill="#000">(<tspan font-weight="bold">b</tspan>)</text>
</svg>
</body></html>
